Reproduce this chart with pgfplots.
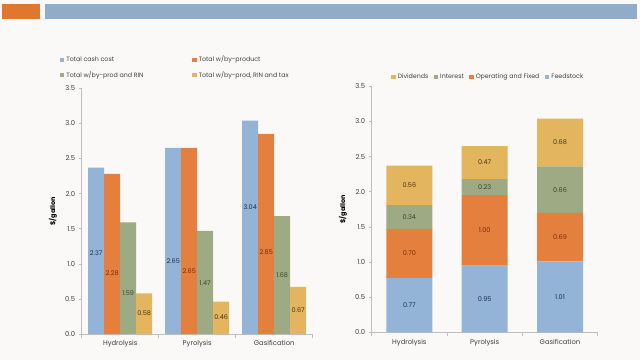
\documentclass[border=0pt]{standalone}
\usepackage{pgfplots}
\pgfplotsset{compat=1.18}
\usepackage{fontspec}
\setmainfont{Poppins}
\definecolor{bgcol}{HTML}{FAF9F8}
\definecolor{topor}{HTML}{E0772E}
\definecolor{topbl}{HTML}{8FACCB}
\definecolor{cblue}{HTML}{93B3D7}
\definecolor{corange}{HTML}{E57F3D}
\definecolor{cgreen}{HTML}{9EAA84}
\definecolor{cyellow}{HTML}{E3B55E}
\definecolor{dblue}{HTML}{1F3050}
\definecolor{dorange}{HTML}{7A2A08}
\definecolor{dgreen}{HTML}{3A4528}
\definecolor{dyellow}{HTML}{4A3510}
\definecolor{axgray}{HTML}{BFBFBF}
\definecolor{txt}{HTML}{404040}
\pgfplotsset{
  sqleg/.style={legend image code/.code={\fill[##1, draw=none] (0pt,-2.2pt) rectangle (4.4pt,2.2pt);}},
  slide/.style={
    scale only axis,
    ymin=0, ymax=3.5, xmin=-0.5, xmax=2.5,
    xtick={0,1,2}, xticklabels={Hydrolysis,Pyrolysis,Gasification},
    minor xtick={-0.5,0.5,1.5,2.5},
    ytick={0,0.5,1,1.5,2,2.5,3,3.5},
    /pgf/number format/assume math mode=true,
    yticklabel style={/pgf/number format/.cd,fixed,fixed zerofill,precision=1},
    axis x line*=bottom, axis y line*=left,
    axis line style={axgray, line width=0.6pt},
    tick align=outside,
    major tick length=3pt, minor tick length=4pt,
    major x tick style={draw=none},
    minor x tick style={axgray, line width=0.5pt},
    major y tick style={axgray, line width=0.5pt},
    tick label style={font=\fontsize{6.8}{7}\selectfont, text=txt},
    ylabel={\textbf{\$/gallon}},
    ylabel shift=1.5pt,
    ylabel style={font=\fontsize{6.5}{7}\selectfont, text=black},
    legend style={draw=none, fill=none, inner sep=0pt, font=\fontsize{6.3}{7}\selectfont, text=txt, cells={anchor=west}},
    nodes near coords={\pgfmathprintnumber[fixed,fixed zerofill,precision=2]{\pgfplotspointmeta}},
  }
}
\pgfplotstableread{
x y ly
0 2.37 1.15
1 2.65 1.045
2 3.04 1.81
}\tcash
\pgfplotstableread{
x y ly
0 2.28 0.865
1 2.65 0.89
2 2.85 1.17
}\tbyprod
\pgfplotstableread{
x y ly
0 1.59 0.58
1 1.47 0.72
2 1.68 0.84
}\trin
\pgfplotstableread{
x y ly
0 0.58 0.295
1 0.46 0.245
2 0.67 0.34
}\ttax
\begin{document}
\begin{tikzpicture}[x=1pt,y=1pt]
\fill[bgcol] (0,0) rectangle (640,360);
\fill[topor] (2,341) rectangle (40,356);
\fill[topbl] (45,341) rectangle (637,356);

\begin{axis}[slide,
  at={(81.7pt,26pt)}, anchor=south west,
  width=231pt, height=245.7pt,
  ybar=0pt, bar width=16pt,
  every axis plot post/.append style={sqleg},
  visualization depends on=rawy\as\rawy,
  visualization depends on=\thisrow{ly}\as\ly,
  point meta=rawy,
  every node near coord/.append style={anchor=center, shift={(axis direction cs:0,\ly-\rawy)}, font=\fontsize{6.5}{7}\selectfont},
  legend columns=2,
  legend style={at={(-0.095,1.085)}, anchor=west, /tikz/every even column/.append style={column sep=0pt}, row sep=4pt},
]
\addplot[fill=cblue, draw=none, every node near coord/.append style={text=dblue}] table[x=x,y=y] {\tcash};
\addlegendentry{\makebox[124pt][l]{Total cash cost}}
\addplot[fill=corange, draw=none, every node near coord/.append style={text=dorange}] table[x=x,y=y] {\tbyprod};
\addlegendentry{Total w/by-product}
\addplot[fill=cgreen, draw=none, every node near coord/.append style={text=dgreen}] table[x=x,y=y] {\trin};
\addlegendentry{\makebox[124pt][l]{Total w/by-prod and RIN}}
\addplot[fill=cyellow, draw=none, every node near coord/.append style={text=dyellow}] table[x=x,y=y] {\ttax};
\addlegendentry{Total w/by-prod, RIN and tax}
\end{axis}

\begin{axis}[slide,
  at={(371.7pt,27.7pt)}, anchor=south west,
  width=226pt, height=246pt,
  ybar stacked, bar width=46pt,
  every axis plot post/.append style={sqleg},
  visualization depends on=rawy\as\rawy,
  point meta=rawy,
  every node near coord/.append style={anchor=center, shift={(axis direction cs:0,-\rawy/2)}, font=\fontsize{6.5}{7}\selectfont},
  legend columns=-1, reverse legend,
  legend style={at={(0.085,1.038)}, anchor=west, /tikz/every even column/.append style={column sep=3.5pt}},
]
\addplot[fill=cblue, draw=none, every node near coord/.append style={text=dblue}] coordinates {(0,0.77) (1,0.95) (2,1.01)};
\addlegendentry{Feedstock}
\addplot[fill=corange, draw=none, every node near coord/.append style={text=dorange}] coordinates {(0,0.70) (1,1.00) (2,0.69)};
\addlegendentry{Operating and Fixed}
\addplot[fill=cgreen, draw=none, every node near coord/.append style={text=dgreen}] coordinates {(0,0.34) (1,0.23) (2,0.66)};
\addlegendentry{Interest}
\addplot[fill=cyellow, draw=none, every node near coord/.append style={text=dyellow}] coordinates {(0,0.56) (1,0.47) (2,0.68)};
\addlegendentry{Dividends}
\end{axis}
\end{tikzpicture}
\end{document}
